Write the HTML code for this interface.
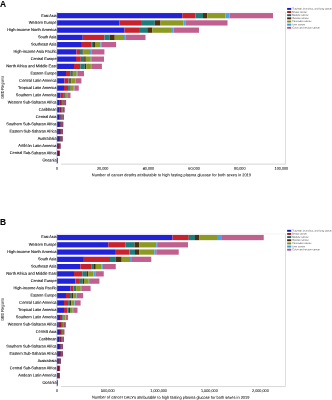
<!DOCTYPE html>
<html lang="en">
<head>
<meta charset="utf-8">
<title>Cancer burden attributable to high fasting plasma glucose by GBD region, 2019</title>
<style>
html,body{margin:0;padding:0;background:#fff;}
body{width:332px;height:400px;overflow:hidden;}
svg{display:block;font-family:"Liberation Sans",Arial,sans-serif;}
svg text{stroke:#000;stroke-width:0.08px;}
</style>
</head>
<body>
<svg width="332" height="400" viewBox="0 0 332 400">
<defs><filter id="soft" x="-2%" y="-2%" width="104%" height="104%"><feGaussianBlur stdDeviation="0.28"/></filter></defs>
<rect x="0" y="0" width="332" height="400" fill="#ffffff"/>
<g filter="url(#soft)">
<rect x="57.00" y="13.05" width="125.25" height="5.25" fill="#2424d8"/>
<rect x="182.25" y="13.05" width="13.25" height="5.25" fill="#c8202f"/>
<rect x="195.50" y="13.05" width="7.50" height="5.25" fill="#1e7e7a"/>
<rect x="203.00" y="13.05" width="4.25" height="5.25" fill="#4e2e0c"/>
<rect x="207.25" y="13.05" width="18.25" height="5.25" fill="#8c9a24"/>
<rect x="225.50" y="13.05" width="4.00" height="5.25" fill="#4aa3e6"/>
<rect x="229.50" y="13.05" width="43.50" height="5.25" fill="#c0608e"/>
<rect x="57.00" y="20.29" width="62.50" height="5.25" fill="#2424d8"/>
<rect x="119.50" y="20.29" width="21.50" height="5.25" fill="#c8202f"/>
<rect x="141.00" y="20.29" width="13.75" height="5.25" fill="#1e7e7a"/>
<rect x="154.75" y="20.29" width="5.75" height="5.25" fill="#4e2e0c"/>
<rect x="160.50" y="20.29" width="23.00" height="5.25" fill="#8c9a24"/>
<rect x="183.50" y="20.29" width="1.75" height="5.25" fill="#4aa3e6"/>
<rect x="185.25" y="20.29" width="42.25" height="5.25" fill="#c0608e"/>
<rect x="57.00" y="27.53" width="67.50" height="5.25" fill="#2424d8"/>
<rect x="124.50" y="27.53" width="14.50" height="5.25" fill="#c8202f"/>
<rect x="139.00" y="27.53" width="8.25" height="5.25" fill="#1e7e7a"/>
<rect x="147.25" y="27.53" width="5.00" height="5.25" fill="#4e2e0c"/>
<rect x="152.25" y="27.53" width="18.75" height="5.25" fill="#8c9a24"/>
<rect x="171.00" y="27.53" width="2.50" height="5.25" fill="#4aa3e6"/>
<rect x="173.50" y="27.53" width="25.50" height="5.25" fill="#c0608e"/>
<rect x="57.00" y="34.78" width="25.75" height="5.25" fill="#2424d8"/>
<rect x="82.75" y="34.78" width="21.65" height="5.25" fill="#c8202f"/>
<rect x="104.40" y="34.78" width="5.35" height="5.25" fill="#1e7e7a"/>
<rect x="109.75" y="34.78" width="5.00" height="5.25" fill="#4e2e0c"/>
<rect x="114.75" y="34.78" width="9.25" height="5.25" fill="#8c9a24"/>
<rect x="124.00" y="34.78" width="1.75" height="5.25" fill="#4aa3e6"/>
<rect x="125.75" y="34.78" width="19.75" height="5.25" fill="#c0608e"/>
<rect x="57.00" y="42.02" width="24.90" height="5.25" fill="#2424d8"/>
<rect x="81.90" y="42.02" width="9.35" height="5.25" fill="#c8202f"/>
<rect x="91.25" y="42.02" width="1.85" height="5.25" fill="#1e7e7a"/>
<rect x="93.10" y="42.02" width="1.90" height="5.25" fill="#4e2e0c"/>
<rect x="95.00" y="42.02" width="5.40" height="5.25" fill="#8c9a24"/>
<rect x="100.40" y="42.02" width="1.50" height="5.25" fill="#4aa3e6"/>
<rect x="101.90" y="42.02" width="14.20" height="5.25" fill="#c0608e"/>
<rect x="57.00" y="49.26" width="19.50" height="5.25" fill="#2424d8"/>
<rect x="76.50" y="49.26" width="3.50" height="5.25" fill="#c8202f"/>
<rect x="80.00" y="49.26" width="2.50" height="5.25" fill="#1e7e7a"/>
<rect x="82.50" y="49.26" width="1.00" height="5.25" fill="#4e2e0c"/>
<rect x="83.50" y="49.26" width="6.50" height="5.25" fill="#8c9a24"/>
<rect x="90.00" y="49.26" width="1.90" height="5.25" fill="#4aa3e6"/>
<rect x="91.90" y="49.26" width="12.50" height="5.25" fill="#c0608e"/>
<rect x="57.00" y="56.50" width="19.00" height="5.25" fill="#2424d8"/>
<rect x="76.00" y="56.50" width="4.80" height="5.25" fill="#c8202f"/>
<rect x="80.80" y="56.50" width="3.40" height="5.25" fill="#1e7e7a"/>
<rect x="84.20" y="56.50" width="1.60" height="5.25" fill="#4e2e0c"/>
<rect x="85.80" y="56.50" width="5.00" height="5.25" fill="#8c9a24"/>
<rect x="90.80" y="56.50" width="1.10" height="5.25" fill="#4aa3e6"/>
<rect x="91.90" y="56.50" width="12.10" height="5.25" fill="#c0608e"/>
<rect x="57.00" y="63.75" width="17.00" height="5.25" fill="#2424d8"/>
<rect x="74.00" y="63.75" width="6.30" height="5.25" fill="#c8202f"/>
<rect x="80.30" y="63.75" width="4.40" height="5.25" fill="#1e7e7a"/>
<rect x="84.70" y="63.75" width="1.55" height="5.25" fill="#4e2e0c"/>
<rect x="86.25" y="63.75" width="4.65" height="5.25" fill="#8c9a24"/>
<rect x="90.90" y="63.75" width="1.00" height="5.25" fill="#4aa3e6"/>
<rect x="91.90" y="63.75" width="10.00" height="5.25" fill="#c0608e"/>
<rect x="57.00" y="70.99" width="9.00" height="5.25" fill="#2424d8"/>
<rect x="66.00" y="70.99" width="4.25" height="5.25" fill="#c8202f"/>
<rect x="70.25" y="70.99" width="2.25" height="5.25" fill="#1e7e7a"/>
<rect x="72.50" y="70.99" width="1.00" height="5.25" fill="#4e2e0c"/>
<rect x="73.50" y="70.99" width="3.20" height="5.25" fill="#8c9a24"/>
<rect x="76.70" y="70.99" width="0.70" height="5.25" fill="#4aa3e6"/>
<rect x="77.40" y="70.99" width="6.60" height="5.25" fill="#c0608e"/>
<rect x="57.00" y="78.23" width="7.40" height="5.25" fill="#2424d8"/>
<rect x="64.40" y="78.23" width="4.10" height="5.25" fill="#c8202f"/>
<rect x="68.50" y="78.23" width="1.75" height="5.25" fill="#1e7e7a"/>
<rect x="70.25" y="78.23" width="1.00" height="5.25" fill="#4e2e0c"/>
<rect x="71.25" y="78.23" width="3.75" height="5.25" fill="#8c9a24"/>
<rect x="75.00" y="78.23" width="0.60" height="5.25" fill="#4aa3e6"/>
<rect x="75.60" y="78.23" width="5.80" height="5.25" fill="#c0608e"/>
<rect x="57.00" y="85.47" width="7.00" height="5.25" fill="#2424d8"/>
<rect x="64.00" y="85.47" width="4.10" height="5.25" fill="#c8202f"/>
<rect x="68.10" y="85.47" width="1.65" height="5.25" fill="#1e7e7a"/>
<rect x="69.75" y="85.47" width="0.85" height="5.25" fill="#4e2e0c"/>
<rect x="70.60" y="85.47" width="3.15" height="5.25" fill="#8c9a24"/>
<rect x="73.75" y="85.47" width="0.65" height="5.25" fill="#4aa3e6"/>
<rect x="74.40" y="85.47" width="4.35" height="5.25" fill="#c0608e"/>
<rect x="57.00" y="92.72" width="3.60" height="5.25" fill="#2424d8"/>
<rect x="60.60" y="92.72" width="2.50" height="5.25" fill="#c8202f"/>
<rect x="63.10" y="92.72" width="1.30" height="5.25" fill="#1e7e7a"/>
<rect x="64.40" y="92.72" width="0.60" height="5.25" fill="#4e2e0c"/>
<rect x="65.00" y="92.72" width="1.90" height="5.25" fill="#8c9a24"/>
<rect x="66.90" y="92.72" width="0.30" height="5.25" fill="#4aa3e6"/>
<rect x="67.20" y="92.72" width="3.30" height="5.25" fill="#c0608e"/>
<rect x="57.00" y="99.96" width="2.20" height="5.25" fill="#2424d8"/>
<rect x="59.20" y="99.96" width="2.60" height="5.25" fill="#c8202f"/>
<rect x="61.80" y="99.96" width="0.40" height="5.25" fill="#1e7e7a"/>
<rect x="62.20" y="99.96" width="0.40" height="5.25" fill="#4e2e0c"/>
<rect x="62.60" y="99.96" width="1.40" height="5.25" fill="#8c9a24"/>
<rect x="64.00" y="99.96" width="0.10" height="5.25" fill="#4aa3e6"/>
<rect x="64.10" y="99.96" width="2.00" height="5.25" fill="#c0608e"/>
<rect x="58.20" y="99.96" width="7.90" height="5.25" fill="#2a0030" fill-opacity="0.22"/>
<rect x="57.00" y="107.20" width="2.50" height="5.25" fill="#2424d8"/>
<rect x="59.50" y="107.20" width="1.50" height="5.25" fill="#c8202f"/>
<rect x="61.00" y="107.20" width="0.40" height="5.25" fill="#1e7e7a"/>
<rect x="61.40" y="107.20" width="0.30" height="5.25" fill="#4e2e0c"/>
<rect x="61.70" y="107.20" width="0.90" height="5.25" fill="#8c9a24"/>
<rect x="62.60" y="107.20" width="0.20" height="5.25" fill="#4aa3e6"/>
<rect x="62.80" y="107.20" width="1.85" height="5.25" fill="#c0608e"/>
<rect x="58.20" y="107.20" width="6.45" height="5.25" fill="#2a0030" fill-opacity="0.27"/>
<rect x="57.00" y="114.45" width="2.30" height="5.25" fill="#2424d8"/>
<rect x="59.30" y="114.45" width="1.30" height="5.25" fill="#c8202f"/>
<rect x="60.60" y="114.45" width="0.40" height="5.25" fill="#1e7e7a"/>
<rect x="61.00" y="114.45" width="0.30" height="5.25" fill="#4e2e0c"/>
<rect x="61.30" y="114.45" width="0.90" height="5.25" fill="#8c9a24"/>
<rect x="62.20" y="114.45" width="0.20" height="5.25" fill="#4aa3e6"/>
<rect x="62.40" y="114.45" width="1.50" height="5.25" fill="#c0608e"/>
<rect x="58.20" y="114.45" width="5.70" height="5.25" fill="#2a0030" fill-opacity="0.32"/>
<rect x="57.00" y="114.45" width="1.2" height="5.25" fill="#100040" fill-opacity="0.12"/>
<rect x="57.00" y="121.69" width="2.00" height="5.25" fill="#2424d8"/>
<rect x="59.00" y="121.69" width="1.60" height="5.25" fill="#c8202f"/>
<rect x="60.60" y="121.69" width="0.30" height="5.25" fill="#1e7e7a"/>
<rect x="60.90" y="121.69" width="0.30" height="5.25" fill="#4e2e0c"/>
<rect x="61.20" y="121.69" width="0.80" height="5.25" fill="#8c9a24"/>
<rect x="62.00" y="121.69" width="0.10" height="5.25" fill="#4aa3e6"/>
<rect x="62.10" y="121.69" width="1.20" height="5.25" fill="#c0608e"/>
<rect x="58.20" y="121.69" width="5.10" height="5.25" fill="#2a0030" fill-opacity="0.37"/>
<rect x="57.00" y="121.69" width="1.2" height="5.25" fill="#100040" fill-opacity="0.18"/>
<rect x="57.00" y="128.93" width="1.80" height="5.25" fill="#2424d8"/>
<rect x="58.80" y="128.93" width="1.80" height="5.25" fill="#c8202f"/>
<rect x="60.60" y="128.93" width="0.20" height="5.25" fill="#1e7e7a"/>
<rect x="60.80" y="128.93" width="0.20" height="5.25" fill="#4e2e0c"/>
<rect x="61.00" y="128.93" width="0.70" height="5.25" fill="#8c9a24"/>
<rect x="61.70" y="128.93" width="0.10" height="5.25" fill="#4aa3e6"/>
<rect x="61.80" y="128.93" width="1.10" height="5.25" fill="#c0608e"/>
<rect x="58.20" y="128.93" width="4.70" height="5.25" fill="#2a0030" fill-opacity="0.42"/>
<rect x="57.00" y="128.93" width="1.2" height="5.25" fill="#100040" fill-opacity="0.24"/>
<rect x="57.00" y="136.18" width="1.90" height="5.25" fill="#2424d8"/>
<rect x="58.90" y="136.18" width="0.90" height="5.25" fill="#c8202f"/>
<rect x="59.80" y="136.18" width="0.40" height="5.25" fill="#1e7e7a"/>
<rect x="60.20" y="136.18" width="0.20" height="5.25" fill="#4e2e0c"/>
<rect x="60.40" y="136.18" width="0.80" height="5.25" fill="#8c9a24"/>
<rect x="61.20" y="136.18" width="0.20" height="5.25" fill="#4aa3e6"/>
<rect x="61.40" y="136.18" width="1.30" height="5.25" fill="#c0608e"/>
<rect x="58.20" y="136.18" width="4.50" height="5.25" fill="#2a0030" fill-opacity="0.47"/>
<rect x="57.00" y="136.18" width="1.2" height="5.25" fill="#100040" fill-opacity="0.30"/>
<rect x="57.00" y="143.42" width="1.20" height="5.25" fill="#2424d8"/>
<rect x="58.20" y="143.42" width="0.80" height="5.25" fill="#c8202f"/>
<rect x="59.00" y="143.42" width="0.20" height="5.25" fill="#1e7e7a"/>
<rect x="59.20" y="143.42" width="0.20" height="5.25" fill="#4e2e0c"/>
<rect x="59.40" y="143.42" width="0.50" height="5.25" fill="#8c9a24"/>
<rect x="59.90" y="143.42" width="0.10" height="5.25" fill="#4aa3e6"/>
<rect x="60.00" y="143.42" width="0.60" height="5.25" fill="#c0608e"/>
<rect x="58.20" y="143.42" width="2.40" height="5.25" fill="#2a0030" fill-opacity="0.52"/>
<rect x="57.00" y="143.42" width="1.2" height="5.25" fill="#100040" fill-opacity="0.36"/>
<rect x="57.00" y="150.66" width="1.00" height="5.25" fill="#2424d8"/>
<rect x="58.00" y="150.66" width="1.00" height="5.25" fill="#c8202f"/>
<rect x="59.00" y="150.66" width="0.10" height="5.25" fill="#1e7e7a"/>
<rect x="59.10" y="150.66" width="0.10" height="5.25" fill="#4e2e0c"/>
<rect x="59.20" y="150.66" width="0.30" height="5.25" fill="#8c9a24"/>
<rect x="59.50" y="150.66" width="0.05" height="5.25" fill="#4aa3e6"/>
<rect x="59.55" y="150.66" width="0.35" height="5.25" fill="#c0608e"/>
<rect x="58.20" y="150.66" width="1.70" height="5.25" fill="#2a0030" fill-opacity="0.57"/>
<rect x="57.00" y="150.66" width="1.2" height="5.25" fill="#100040" fill-opacity="0.42"/>
<rect x="57.00" y="157.90" width="0.30" height="5.25" fill="#2424d8"/>
<rect x="57.30" y="157.90" width="0.20" height="5.25" fill="#c8202f"/>
<rect x="57.50" y="157.90" width="0.05" height="5.25" fill="#1e7e7a"/>
<rect x="57.55" y="157.90" width="0.05" height="5.25" fill="#4e2e0c"/>
<rect x="57.60" y="157.90" width="0.15" height="5.25" fill="#8c9a24"/>
<rect x="57.75" y="157.90" width="0.05" height="5.25" fill="#4aa3e6"/>
<rect x="57.80" y="157.90" width="0.15" height="5.25" fill="#c0608e"/>
<rect x="56.90" y="157.90" width="0.8" height="5.25" fill="#26266a"/>
</g>
<line x1="57.0" y1="12.05" x2="285.5" y2="12.05" stroke="#ececec" stroke-width="0.6"/>
<line x1="285.5" y1="12.05" x2="285.5" y2="164.15" stroke="#d4d4d4" stroke-width="0.8"/>
<line x1="61.0" y1="164.15" x2="285.5" y2="164.15" stroke="#d2d2d2" stroke-width="0.9"/>
<line x1="57.0" y1="12.05" x2="57.0" y2="164.15" stroke="#9090dc" stroke-width="0.6"/>
<text transform="translate(56.5,16.52) rotate(0.03)" text-anchor="end" font-size="3.95" fill="#000000" textLength="15.29" lengthAdjust="spacingAndGlyphs">East Asia</text>
<text transform="translate(56.5,23.76) rotate(0.03)" text-anchor="end" font-size="3.95" fill="#000000" textLength="27.83" lengthAdjust="spacingAndGlyphs">Western Europe</text>
<text transform="translate(56.5,31.01) rotate(0.03)" text-anchor="end" font-size="3.95" fill="#000000" textLength="49.25" lengthAdjust="spacingAndGlyphs">High-income North America</text>
<text transform="translate(56.5,38.25) rotate(0.03)" text-anchor="end" font-size="3.95" fill="#000000" textLength="18.49" lengthAdjust="spacingAndGlyphs">South Asia</text>
<text transform="translate(56.5,45.49) rotate(0.03)" text-anchor="end" font-size="3.95" fill="#000000" textLength="25.58" lengthAdjust="spacingAndGlyphs">Southeast Asia</text>
<text transform="translate(56.5,52.74) rotate(0.03)" text-anchor="end" font-size="3.95" fill="#000000" textLength="43.07" lengthAdjust="spacingAndGlyphs">High-income Asia Pacific</text>
<text transform="translate(56.5,59.98) rotate(0.03)" text-anchor="end" font-size="3.95" fill="#000000" textLength="25.81" lengthAdjust="spacingAndGlyphs">Central Europe</text>
<text transform="translate(56.5,67.22) rotate(0.03)" text-anchor="end" font-size="3.95" fill="#000000" textLength="50.26" lengthAdjust="spacingAndGlyphs">North Africa and Middle East</text>
<text transform="translate(56.5,74.46) rotate(0.03)" text-anchor="end" font-size="3.95" fill="#000000" textLength="26.09" lengthAdjust="spacingAndGlyphs">Eastern Europe</text>
<text transform="translate(56.5,81.71) rotate(0.03)" text-anchor="end" font-size="3.95" fill="#000000" textLength="37.17" lengthAdjust="spacingAndGlyphs">Central Latin America</text>
<text transform="translate(56.5,88.95) rotate(0.03)" text-anchor="end" font-size="3.95" fill="#000000" textLength="38.57" lengthAdjust="spacingAndGlyphs">Tropical Latin America</text>
<text transform="translate(56.5,96.19) rotate(0.03)" text-anchor="end" font-size="3.95" fill="#000000" textLength="40.63" lengthAdjust="spacingAndGlyphs">Southern Latin America</text>
<text transform="translate(56.5,103.44) rotate(0.03)" text-anchor="end" font-size="3.95" fill="#000000" textLength="48.75" lengthAdjust="spacingAndGlyphs">Western Sub-Saharan Africa</text>
<text transform="translate(56.5,110.68) rotate(0.03)" text-anchor="end" font-size="3.95" fill="#000000" textLength="17.74" lengthAdjust="spacingAndGlyphs">Caribbean</text>
<text transform="translate(56.5,117.92) rotate(0.03)" text-anchor="end" font-size="3.95" fill="#000000" textLength="20.69" lengthAdjust="spacingAndGlyphs">Central Asia</text>
<text transform="translate(56.5,125.16) rotate(0.03)" text-anchor="end" font-size="3.95" fill="#000000" textLength="50.20" lengthAdjust="spacingAndGlyphs">Southern Sub-Saharan Africa</text>
<text transform="translate(56.5,132.41) rotate(0.03)" text-anchor="end" font-size="3.95" fill="#000000" textLength="47.01" lengthAdjust="spacingAndGlyphs">Eastern Sub-Saharan Africa</text>
<text transform="translate(56.5,139.65) rotate(0.03)" text-anchor="end" font-size="3.95" fill="#000000" textLength="18.79" lengthAdjust="spacingAndGlyphs">Australasia</text>
<text transform="translate(56.5,146.89) rotate(0.03)" text-anchor="end" font-size="3.95" fill="#000000" textLength="38.16" lengthAdjust="spacingAndGlyphs">Andean Latin America</text>
<text transform="translate(56.5,154.14) rotate(0.03)" text-anchor="end" font-size="3.95" fill="#000000" textLength="46.74" lengthAdjust="spacingAndGlyphs">Central Sub-Saharan Africa</text>
<text transform="translate(56.5,161.38) rotate(0.03)" text-anchor="end" font-size="3.95" fill="#000000" textLength="14.08" lengthAdjust="spacingAndGlyphs">Oceania</text>
<text transform="translate(57,169.65) rotate(0.03)" text-anchor="middle" font-size="3.95" fill="#000000" textLength="2.13" lengthAdjust="spacingAndGlyphs" style="stroke-width:0.04px">0</text>
<text transform="translate(102.7,169.65) rotate(0.03)" text-anchor="middle" font-size="3.95" fill="#000000" textLength="11.50" lengthAdjust="spacingAndGlyphs" style="stroke-width:0.04px">20,000</text>
<text transform="translate(148.4,169.65) rotate(0.03)" text-anchor="middle" font-size="3.95" fill="#000000" textLength="11.50" lengthAdjust="spacingAndGlyphs" style="stroke-width:0.04px">40,000</text>
<text transform="translate(194.1,169.65) rotate(0.03)" text-anchor="middle" font-size="3.95" fill="#000000" textLength="11.50" lengthAdjust="spacingAndGlyphs" style="stroke-width:0.04px">60,000</text>
<text transform="translate(239.8,169.65) rotate(0.03)" text-anchor="middle" font-size="3.95" fill="#000000" textLength="11.50" lengthAdjust="spacingAndGlyphs" style="stroke-width:0.04px">80,000</text>
<text transform="translate(281.4,169.65) rotate(0.03)" text-anchor="middle" font-size="3.95" fill="#000000" textLength="13.63" lengthAdjust="spacingAndGlyphs" style="stroke-width:0.04px">100,000</text>
<text transform="translate(171.4,176.25) rotate(0.03)" text-anchor="middle" font-size="3.95" fill="#000000" textLength="159.25" lengthAdjust="spacingAndGlyphs" style="stroke-width:0.04px">Number of cancer deaths attributable to high fasting plasma glucose for both sexes in 2019</text>
<text transform="translate(3.8,87.35) rotate(-90.03)" text-anchor="middle" font-size="3.95" fill="#000000" textLength="22.76" lengthAdjust="spacingAndGlyphs" style="stroke-width:0.03px">GBD Regions</text>
<rect x="287.15" y="7.95" width="4.05" height="1.9" fill="#1818c4"/>
<text transform="translate(292.2,9.50) rotate(0.03)" text-anchor="start" font-size="2.52" fill="#000000" textLength="39.84" lengthAdjust="spacingAndGlyphs" style="stroke:none" opacity="0.8">Tracheal, bronchus, and lung cancer</text>
<rect x="287.15" y="11.10" width="4.05" height="1.9" fill="#a81a22"/>
<text transform="translate(292.2,12.65) rotate(0.03)" text-anchor="start" font-size="2.52" fill="#000000" textLength="14.76" lengthAdjust="spacingAndGlyphs" style="stroke:none" opacity="0.8">Breast cancer</text>
<rect x="287.15" y="14.25" width="4.05" height="1.9" fill="#12646c"/>
<text transform="translate(292.2,15.80) rotate(0.03)" text-anchor="start" font-size="2.52" fill="#000000" textLength="16.42" lengthAdjust="spacingAndGlyphs" style="stroke:none" opacity="0.8">Bladder cancer</text>
<rect x="287.15" y="17.40" width="4.05" height="1.9" fill="#42240a"/>
<text transform="translate(292.2,18.95) rotate(0.03)" text-anchor="start" font-size="2.52" fill="#000000" textLength="16.50" lengthAdjust="spacingAndGlyphs" style="stroke:none" opacity="0.8">Ovarian cancer</text>
<rect x="287.15" y="20.55" width="4.05" height="1.9" fill="#7c8a20"/>
<text transform="translate(292.2,22.10) rotate(0.03)" text-anchor="start" font-size="2.52" fill="#000000" textLength="19.31" lengthAdjust="spacingAndGlyphs" style="stroke:none" opacity="0.8">Pancreatic cancer</text>
<rect x="287.15" y="23.70" width="4.05" height="1.9" fill="#3a9ad8"/>
<text transform="translate(292.2,25.25) rotate(0.03)" text-anchor="start" font-size="2.52" fill="#000000" textLength="13.12" lengthAdjust="spacingAndGlyphs" style="stroke:none" opacity="0.8">Liver cancer</text>
<rect x="287.15" y="26.85" width="4.05" height="1.9" fill="#a8558c"/>
<text transform="translate(292.2,28.40) rotate(0.03)" text-anchor="start" font-size="2.52" fill="#000000" textLength="27.85" lengthAdjust="spacingAndGlyphs" style="stroke:none" opacity="0.8">Colon and rectum cancer</text>
<text x="0" y="7.0" font-size="8.4" font-weight="bold" fill="#000">A</text>
<g filter="url(#soft)">
<rect x="57.00" y="234.91" width="115.50" height="5.25" fill="#2424d8"/>
<rect x="172.50" y="234.91" width="16.25" height="5.25" fill="#c8202f"/>
<rect x="188.75" y="234.91" width="6.25" height="5.25" fill="#1e7e7a"/>
<rect x="195.00" y="234.91" width="4.20" height="5.25" fill="#4e2e0c"/>
<rect x="199.20" y="234.91" width="17.80" height="5.25" fill="#8c9a24"/>
<rect x="217.00" y="234.91" width="5.00" height="5.25" fill="#4aa3e6"/>
<rect x="222.00" y="234.91" width="41.75" height="5.25" fill="#c0608e"/>
<rect x="57.00" y="242.18" width="51.25" height="5.25" fill="#2424d8"/>
<rect x="108.25" y="242.18" width="17.35" height="5.25" fill="#c8202f"/>
<rect x="125.60" y="242.18" width="8.90" height="5.25" fill="#1e7e7a"/>
<rect x="134.50" y="242.18" width="4.70" height="5.25" fill="#4e2e0c"/>
<rect x="139.20" y="242.18" width="17.05" height="5.25" fill="#8c9a24"/>
<rect x="156.25" y="242.18" width="1.75" height="5.25" fill="#4aa3e6"/>
<rect x="158.00" y="242.18" width="30.00" height="5.25" fill="#c0608e"/>
<rect x="57.00" y="249.45" width="58.00" height="5.25" fill="#2424d8"/>
<rect x="115.00" y="249.45" width="14.50" height="5.25" fill="#c8202f"/>
<rect x="129.50" y="249.45" width="5.50" height="5.25" fill="#1e7e7a"/>
<rect x="135.00" y="249.45" width="4.20" height="5.25" fill="#4e2e0c"/>
<rect x="139.20" y="249.45" width="15.05" height="5.25" fill="#8c9a24"/>
<rect x="154.25" y="249.45" width="2.00" height="5.25" fill="#4aa3e6"/>
<rect x="156.25" y="249.45" width="22.50" height="5.25" fill="#c0608e"/>
<rect x="57.00" y="256.72" width="26.90" height="5.25" fill="#2424d8"/>
<rect x="83.90" y="256.72" width="26.10" height="5.25" fill="#c8202f"/>
<rect x="110.00" y="256.72" width="5.75" height="5.25" fill="#1e7e7a"/>
<rect x="115.75" y="256.72" width="5.95" height="5.25" fill="#4e2e0c"/>
<rect x="121.70" y="256.72" width="8.30" height="5.25" fill="#8c9a24"/>
<rect x="130.00" y="256.72" width="2.00" height="5.25" fill="#4aa3e6"/>
<rect x="132.00" y="256.72" width="19.25" height="5.25" fill="#c0608e"/>
<rect x="57.00" y="263.99" width="23.40" height="5.25" fill="#2424d8"/>
<rect x="80.40" y="263.99" width="11.30" height="5.25" fill="#c8202f"/>
<rect x="91.70" y="263.99" width="2.30" height="5.25" fill="#1e7e7a"/>
<rect x="94.00" y="263.99" width="1.80" height="5.25" fill="#4e2e0c"/>
<rect x="95.80" y="263.99" width="5.60" height="5.25" fill="#8c9a24"/>
<rect x="101.40" y="263.99" width="1.50" height="5.25" fill="#4aa3e6"/>
<rect x="102.90" y="263.99" width="12.85" height="5.25" fill="#c0608e"/>
<rect x="57.00" y="271.25" width="17.00" height="5.25" fill="#2424d8"/>
<rect x="74.00" y="271.25" width="8.30" height="5.25" fill="#c8202f"/>
<rect x="82.30" y="271.25" width="4.10" height="5.25" fill="#1e7e7a"/>
<rect x="86.40" y="271.25" width="1.80" height="5.25" fill="#4e2e0c"/>
<rect x="88.20" y="271.25" width="5.30" height="5.25" fill="#8c9a24"/>
<rect x="93.50" y="271.25" width="1.80" height="5.25" fill="#4aa3e6"/>
<rect x="95.30" y="271.25" width="8.45" height="5.25" fill="#c0608e"/>
<rect x="57.00" y="278.52" width="18.40" height="5.25" fill="#2424d8"/>
<rect x="75.40" y="278.52" width="4.50" height="5.25" fill="#c8202f"/>
<rect x="79.90" y="278.52" width="2.80" height="5.25" fill="#1e7e7a"/>
<rect x="82.70" y="278.52" width="1.30" height="5.25" fill="#4e2e0c"/>
<rect x="84.00" y="278.52" width="4.75" height="5.25" fill="#8c9a24"/>
<rect x="88.75" y="278.52" width="1.25" height="5.25" fill="#4aa3e6"/>
<rect x="90.00" y="278.52" width="9.40" height="5.25" fill="#c0608e"/>
<rect x="57.00" y="285.79" width="13.60" height="5.25" fill="#2424d8"/>
<rect x="70.60" y="285.79" width="2.90" height="5.25" fill="#c8202f"/>
<rect x="73.50" y="285.79" width="1.80" height="5.25" fill="#1e7e7a"/>
<rect x="75.30" y="285.79" width="0.90" height="5.25" fill="#4e2e0c"/>
<rect x="76.20" y="285.79" width="4.60" height="5.25" fill="#8c9a24"/>
<rect x="80.80" y="285.79" width="1.10" height="5.25" fill="#4aa3e6"/>
<rect x="81.90" y="285.79" width="8.70" height="5.25" fill="#c0608e"/>
<rect x="57.00" y="293.06" width="9.00" height="5.25" fill="#2424d8"/>
<rect x="66.00" y="293.06" width="4.00" height="5.25" fill="#c8202f"/>
<rect x="70.00" y="293.06" width="1.90" height="5.25" fill="#1e7e7a"/>
<rect x="71.90" y="293.06" width="1.20" height="5.25" fill="#4e2e0c"/>
<rect x="73.10" y="293.06" width="3.40" height="5.25" fill="#8c9a24"/>
<rect x="76.50" y="293.06" width="0.50" height="5.25" fill="#4aa3e6"/>
<rect x="77.00" y="293.06" width="6.10" height="5.25" fill="#c0608e"/>
<rect x="57.00" y="300.33" width="7.00" height="5.25" fill="#2424d8"/>
<rect x="64.00" y="300.33" width="4.10" height="5.25" fill="#c8202f"/>
<rect x="68.10" y="300.33" width="1.90" height="5.25" fill="#1e7e7a"/>
<rect x="70.00" y="300.33" width="1.25" height="5.25" fill="#4e2e0c"/>
<rect x="71.25" y="300.33" width="3.15" height="5.25" fill="#8c9a24"/>
<rect x="74.40" y="300.33" width="0.60" height="5.25" fill="#4aa3e6"/>
<rect x="75.00" y="300.33" width="5.60" height="5.25" fill="#c0608e"/>
<rect x="57.00" y="307.60" width="7.00" height="5.25" fill="#2424d8"/>
<rect x="64.00" y="307.60" width="3.50" height="5.25" fill="#c8202f"/>
<rect x="67.50" y="307.60" width="1.50" height="5.25" fill="#1e7e7a"/>
<rect x="69.00" y="307.60" width="1.00" height="5.25" fill="#4e2e0c"/>
<rect x="70.00" y="307.60" width="2.75" height="5.25" fill="#8c9a24"/>
<rect x="72.75" y="307.60" width="0.45" height="5.25" fill="#4aa3e6"/>
<rect x="73.20" y="307.60" width="4.30" height="5.25" fill="#c0608e"/>
<rect x="57.00" y="314.87" width="3.00" height="5.25" fill="#2424d8"/>
<rect x="60.00" y="314.87" width="2.25" height="5.25" fill="#c8202f"/>
<rect x="62.25" y="314.87" width="0.85" height="5.25" fill="#1e7e7a"/>
<rect x="63.10" y="314.87" width="0.50" height="5.25" fill="#4e2e0c"/>
<rect x="63.60" y="314.87" width="2.00" height="5.25" fill="#8c9a24"/>
<rect x="65.60" y="314.87" width="0.30" height="5.25" fill="#4aa3e6"/>
<rect x="65.90" y="314.87" width="2.20" height="5.25" fill="#c0608e"/>
<rect x="57.00" y="322.14" width="1.75" height="5.25" fill="#2424d8"/>
<rect x="58.75" y="322.14" width="2.50" height="5.25" fill="#c8202f"/>
<rect x="61.25" y="322.14" width="0.35" height="5.25" fill="#1e7e7a"/>
<rect x="61.60" y="322.14" width="0.40" height="5.25" fill="#4e2e0c"/>
<rect x="62.00" y="322.14" width="1.50" height="5.25" fill="#8c9a24"/>
<rect x="63.50" y="322.14" width="0.10" height="5.25" fill="#4aa3e6"/>
<rect x="63.60" y="322.14" width="2.20" height="5.25" fill="#c0608e"/>
<rect x="58.20" y="322.14" width="7.60" height="5.25" fill="#2a0030" fill-opacity="0.22"/>
<rect x="57.00" y="329.41" width="2.90" height="5.25" fill="#2424d8"/>
<rect x="59.90" y="329.41" width="1.70" height="5.25" fill="#c8202f"/>
<rect x="61.60" y="329.41" width="0.40" height="5.25" fill="#1e7e7a"/>
<rect x="62.00" y="329.41" width="0.30" height="5.25" fill="#4e2e0c"/>
<rect x="62.30" y="329.41" width="0.70" height="5.25" fill="#8c9a24"/>
<rect x="63.00" y="329.41" width="0.10" height="5.25" fill="#4aa3e6"/>
<rect x="63.10" y="329.41" width="1.30" height="5.25" fill="#c0608e"/>
<rect x="58.20" y="329.41" width="6.20" height="5.25" fill="#2a0030" fill-opacity="0.27"/>
<rect x="57.00" y="336.68" width="2.50" height="5.25" fill="#2424d8"/>
<rect x="59.50" y="336.68" width="1.50" height="5.25" fill="#c8202f"/>
<rect x="61.00" y="336.68" width="0.30" height="5.25" fill="#1e7e7a"/>
<rect x="61.30" y="336.68" width="0.30" height="5.25" fill="#4e2e0c"/>
<rect x="61.60" y="336.68" width="0.80" height="5.25" fill="#8c9a24"/>
<rect x="62.40" y="336.68" width="0.20" height="5.25" fill="#4aa3e6"/>
<rect x="62.60" y="336.68" width="1.30" height="5.25" fill="#c0608e"/>
<rect x="58.20" y="336.68" width="5.70" height="5.25" fill="#2a0030" fill-opacity="0.32"/>
<rect x="57.00" y="336.68" width="1.2" height="5.25" fill="#100040" fill-opacity="0.12"/>
<rect x="57.00" y="343.95" width="2.00" height="5.25" fill="#2424d8"/>
<rect x="59.00" y="343.95" width="1.60" height="5.25" fill="#c8202f"/>
<rect x="60.60" y="343.95" width="0.20" height="5.25" fill="#1e7e7a"/>
<rect x="60.80" y="343.95" width="0.30" height="5.25" fill="#4e2e0c"/>
<rect x="61.10" y="343.95" width="0.70" height="5.25" fill="#8c9a24"/>
<rect x="61.80" y="343.95" width="0.10" height="5.25" fill="#4aa3e6"/>
<rect x="61.90" y="343.95" width="1.00" height="5.25" fill="#c0608e"/>
<rect x="58.20" y="343.95" width="4.70" height="5.25" fill="#2a0030" fill-opacity="0.37"/>
<rect x="57.00" y="343.95" width="1.2" height="5.25" fill="#100040" fill-opacity="0.18"/>
<rect x="57.00" y="351.21" width="1.80" height="5.25" fill="#2424d8"/>
<rect x="58.80" y="351.21" width="1.90" height="5.25" fill="#c8202f"/>
<rect x="60.70" y="351.21" width="0.20" height="5.25" fill="#1e7e7a"/>
<rect x="60.90" y="351.21" width="0.20" height="5.25" fill="#4e2e0c"/>
<rect x="61.10" y="351.21" width="0.70" height="5.25" fill="#8c9a24"/>
<rect x="61.80" y="351.21" width="0.10" height="5.25" fill="#4aa3e6"/>
<rect x="61.90" y="351.21" width="1.00" height="5.25" fill="#c0608e"/>
<rect x="58.20" y="351.21" width="4.70" height="5.25" fill="#2a0030" fill-opacity="0.42"/>
<rect x="57.00" y="351.21" width="1.2" height="5.25" fill="#100040" fill-opacity="0.24"/>
<rect x="57.00" y="358.48" width="1.60" height="5.25" fill="#2424d8"/>
<rect x="58.60" y="358.48" width="0.70" height="5.25" fill="#c8202f"/>
<rect x="59.30" y="358.48" width="0.30" height="5.25" fill="#1e7e7a"/>
<rect x="59.60" y="358.48" width="0.20" height="5.25" fill="#4e2e0c"/>
<rect x="59.80" y="358.48" width="0.50" height="5.25" fill="#8c9a24"/>
<rect x="60.30" y="358.48" width="0.10" height="5.25" fill="#4aa3e6"/>
<rect x="60.40" y="358.48" width="0.60" height="5.25" fill="#c0608e"/>
<rect x="58.20" y="358.48" width="2.80" height="5.25" fill="#2a0030" fill-opacity="0.47"/>
<rect x="57.00" y="358.48" width="1.2" height="5.25" fill="#100040" fill-opacity="0.30"/>
<rect x="57.00" y="365.75" width="1.00" height="5.25" fill="#2424d8"/>
<rect x="58.00" y="365.75" width="1.20" height="5.25" fill="#c8202f"/>
<rect x="59.20" y="365.75" width="0.10" height="5.25" fill="#1e7e7a"/>
<rect x="59.30" y="365.75" width="0.10" height="5.25" fill="#4e2e0c"/>
<rect x="59.40" y="365.75" width="0.30" height="5.25" fill="#8c9a24"/>
<rect x="59.70" y="365.75" width="0.05" height="5.25" fill="#4aa3e6"/>
<rect x="59.75" y="365.75" width="0.35" height="5.25" fill="#c0608e"/>
<rect x="58.20" y="365.75" width="1.90" height="5.25" fill="#2a0030" fill-opacity="0.52"/>
<rect x="57.00" y="365.75" width="1.2" height="5.25" fill="#100040" fill-opacity="0.36"/>
<rect x="57.00" y="373.02" width="1.00" height="5.25" fill="#2424d8"/>
<rect x="58.00" y="373.02" width="0.70" height="5.25" fill="#c8202f"/>
<rect x="58.70" y="373.02" width="0.20" height="5.25" fill="#1e7e7a"/>
<rect x="58.90" y="373.02" width="0.10" height="5.25" fill="#4e2e0c"/>
<rect x="59.00" y="373.02" width="0.40" height="5.25" fill="#8c9a24"/>
<rect x="59.40" y="373.02" width="0.10" height="5.25" fill="#4aa3e6"/>
<rect x="59.50" y="373.02" width="0.40" height="5.25" fill="#c0608e"/>
<rect x="58.20" y="373.02" width="1.70" height="5.25" fill="#2a0030" fill-opacity="0.57"/>
<rect x="57.00" y="373.02" width="1.2" height="5.25" fill="#100040" fill-opacity="0.42"/>
<rect x="57.00" y="380.29" width="0.30" height="5.25" fill="#2424d8"/>
<rect x="57.30" y="380.29" width="0.20" height="5.25" fill="#c8202f"/>
<rect x="57.50" y="380.29" width="0.05" height="5.25" fill="#1e7e7a"/>
<rect x="57.55" y="380.29" width="0.05" height="5.25" fill="#4e2e0c"/>
<rect x="57.60" y="380.29" width="0.15" height="5.25" fill="#8c9a24"/>
<rect x="57.75" y="380.29" width="0.05" height="5.25" fill="#4aa3e6"/>
<rect x="57.80" y="380.29" width="0.15" height="5.25" fill="#c0608e"/>
<rect x="56.90" y="380.29" width="0.8" height="5.25" fill="#26266a"/>
</g>
<line x1="57.0" y1="233.9" x2="285.5" y2="233.9" stroke="#ececec" stroke-width="0.6"/>
<line x1="285.5" y1="233.9" x2="285.5" y2="386.55" stroke="#d4d4d4" stroke-width="0.8"/>
<line x1="61.0" y1="386.55" x2="285.5" y2="386.55" stroke="#d2d2d2" stroke-width="0.9"/>
<line x1="57.0" y1="233.9" x2="57.0" y2="386.55" stroke="#9090dc" stroke-width="0.6"/>
<text transform="translate(56.5,238.38) rotate(0.03)" text-anchor="end" font-size="3.95" fill="#000000" textLength="15.29" lengthAdjust="spacingAndGlyphs">East Asia</text>
<text transform="translate(56.5,245.65) rotate(0.03)" text-anchor="end" font-size="3.95" fill="#000000" textLength="27.83" lengthAdjust="spacingAndGlyphs">Western Europe</text>
<text transform="translate(56.5,252.92) rotate(0.03)" text-anchor="end" font-size="3.95" fill="#000000" textLength="49.25" lengthAdjust="spacingAndGlyphs">High-income North America</text>
<text transform="translate(56.5,260.19) rotate(0.03)" text-anchor="end" font-size="3.95" fill="#000000" textLength="18.49" lengthAdjust="spacingAndGlyphs">South Asia</text>
<text transform="translate(56.5,267.46) rotate(0.03)" text-anchor="end" font-size="3.95" fill="#000000" textLength="25.58" lengthAdjust="spacingAndGlyphs">Southeast Asia</text>
<text transform="translate(56.5,274.73) rotate(0.03)" text-anchor="end" font-size="3.95" fill="#000000" textLength="50.26" lengthAdjust="spacingAndGlyphs">North Africa and Middle East</text>
<text transform="translate(56.5,282.00) rotate(0.03)" text-anchor="end" font-size="3.95" fill="#000000" textLength="25.81" lengthAdjust="spacingAndGlyphs">Central Europe</text>
<text transform="translate(56.5,289.27) rotate(0.03)" text-anchor="end" font-size="3.95" fill="#000000" textLength="43.07" lengthAdjust="spacingAndGlyphs">High-income Asia Pacific</text>
<text transform="translate(56.5,296.54) rotate(0.03)" text-anchor="end" font-size="3.95" fill="#000000" textLength="26.09" lengthAdjust="spacingAndGlyphs">Eastern Europe</text>
<text transform="translate(56.5,303.81) rotate(0.03)" text-anchor="end" font-size="3.95" fill="#000000" textLength="37.17" lengthAdjust="spacingAndGlyphs">Central Latin America</text>
<text transform="translate(56.5,311.08) rotate(0.03)" text-anchor="end" font-size="3.95" fill="#000000" textLength="38.57" lengthAdjust="spacingAndGlyphs">Tropical Latin America</text>
<text transform="translate(56.5,318.34) rotate(0.03)" text-anchor="end" font-size="3.95" fill="#000000" textLength="40.63" lengthAdjust="spacingAndGlyphs">Southern Latin America</text>
<text transform="translate(56.5,325.61) rotate(0.03)" text-anchor="end" font-size="3.95" fill="#000000" textLength="48.75" lengthAdjust="spacingAndGlyphs">Western Sub-Saharan Africa</text>
<text transform="translate(56.5,332.88) rotate(0.03)" text-anchor="end" font-size="3.95" fill="#000000" textLength="20.69" lengthAdjust="spacingAndGlyphs">Central Asia</text>
<text transform="translate(56.5,340.15) rotate(0.03)" text-anchor="end" font-size="3.95" fill="#000000" textLength="17.74" lengthAdjust="spacingAndGlyphs">Caribbean</text>
<text transform="translate(56.5,347.42) rotate(0.03)" text-anchor="end" font-size="3.95" fill="#000000" textLength="50.20" lengthAdjust="spacingAndGlyphs">Southern Sub-Saharan Africa</text>
<text transform="translate(56.5,354.69) rotate(0.03)" text-anchor="end" font-size="3.95" fill="#000000" textLength="47.01" lengthAdjust="spacingAndGlyphs">Eastern Sub-Saharan Africa</text>
<text transform="translate(56.5,361.96) rotate(0.03)" text-anchor="end" font-size="3.95" fill="#000000" textLength="18.79" lengthAdjust="spacingAndGlyphs">Australasia</text>
<text transform="translate(56.5,369.23) rotate(0.03)" text-anchor="end" font-size="3.95" fill="#000000" textLength="46.74" lengthAdjust="spacingAndGlyphs">Central Sub-Saharan Africa</text>
<text transform="translate(56.5,376.50) rotate(0.03)" text-anchor="end" font-size="3.95" fill="#000000" textLength="38.16" lengthAdjust="spacingAndGlyphs">Andean Latin America</text>
<text transform="translate(56.5,383.77) rotate(0.03)" text-anchor="end" font-size="3.95" fill="#000000" textLength="14.08" lengthAdjust="spacingAndGlyphs">Oceania</text>
<text transform="translate(57,392.05) rotate(0.03)" text-anchor="middle" font-size="3.95" fill="#000000" textLength="2.13" lengthAdjust="spacingAndGlyphs" style="stroke-width:0.04px">0</text>
<text transform="translate(107.8,392.05) rotate(0.03)" text-anchor="middle" font-size="3.95" fill="#000000" textLength="13.63" lengthAdjust="spacingAndGlyphs" style="stroke-width:0.04px">500,000</text>
<text transform="translate(158.6,392.05) rotate(0.03)" text-anchor="middle" font-size="3.95" fill="#000000" textLength="16.62" lengthAdjust="spacingAndGlyphs" style="stroke-width:0.04px">1,000,000</text>
<text transform="translate(209.4,392.05) rotate(0.03)" text-anchor="middle" font-size="3.95" fill="#000000" textLength="16.62" lengthAdjust="spacingAndGlyphs" style="stroke-width:0.04px">1,500,000</text>
<text transform="translate(260.4,392.05) rotate(0.03)" text-anchor="middle" font-size="3.95" fill="#000000" textLength="16.62" lengthAdjust="spacingAndGlyphs" style="stroke-width:0.04px">2,000,000</text>
<text transform="translate(170.6,398.65) rotate(0.03)" text-anchor="middle" font-size="3.95" fill="#000000" textLength="157.4" lengthAdjust="spacingAndGlyphs" style="stroke-width:0.04px">Number of cancer DALYs attributable to high fasting plasma glucose for both sexes in 2019</text>
<text transform="translate(3.8,309.48) rotate(-90.03)" text-anchor="middle" font-size="3.95" fill="#000000" textLength="22.76" lengthAdjust="spacingAndGlyphs" style="stroke-width:0.03px">GBD Regions</text>
<rect x="287.15" y="229.85" width="4.05" height="1.9" fill="#1818c4"/>
<text transform="translate(292.2,231.40) rotate(0.03)" text-anchor="start" font-size="2.52" fill="#000000" textLength="39.84" lengthAdjust="spacingAndGlyphs" style="stroke:none" opacity="0.8">Tracheal, bronchus, and lung cancer</text>
<rect x="287.15" y="233.00" width="4.05" height="1.9" fill="#a81a22"/>
<text transform="translate(292.2,234.55) rotate(0.03)" text-anchor="start" font-size="2.52" fill="#000000" textLength="14.76" lengthAdjust="spacingAndGlyphs" style="stroke:none" opacity="0.8">Breast cancer</text>
<rect x="287.15" y="236.15" width="4.05" height="1.9" fill="#12646c"/>
<text transform="translate(292.2,237.70) rotate(0.03)" text-anchor="start" font-size="2.52" fill="#000000" textLength="16.42" lengthAdjust="spacingAndGlyphs" style="stroke:none" opacity="0.8">Bladder cancer</text>
<rect x="287.15" y="239.30" width="4.05" height="1.9" fill="#42240a"/>
<text transform="translate(292.2,240.85) rotate(0.03)" text-anchor="start" font-size="2.52" fill="#000000" textLength="16.50" lengthAdjust="spacingAndGlyphs" style="stroke:none" opacity="0.8">Ovarian cancer</text>
<rect x="287.15" y="242.45" width="4.05" height="1.9" fill="#7c8a20"/>
<text transform="translate(292.2,244.00) rotate(0.03)" text-anchor="start" font-size="2.52" fill="#000000" textLength="19.31" lengthAdjust="spacingAndGlyphs" style="stroke:none" opacity="0.8">Pancreatic cancer</text>
<rect x="287.15" y="245.60" width="4.05" height="1.9" fill="#3a9ad8"/>
<text transform="translate(292.2,247.15) rotate(0.03)" text-anchor="start" font-size="2.52" fill="#000000" textLength="13.12" lengthAdjust="spacingAndGlyphs" style="stroke:none" opacity="0.8">Liver cancer</text>
<rect x="287.15" y="248.75" width="4.05" height="1.9" fill="#a8558c"/>
<text transform="translate(292.2,250.30) rotate(0.03)" text-anchor="start" font-size="2.52" fill="#000000" textLength="27.85" lengthAdjust="spacingAndGlyphs" style="stroke:none" opacity="0.8">Colon and rectum cancer</text>
<text x="0" y="225.0" font-size="8.4" font-weight="bold" fill="#000">B</text>
</svg>
</body>
</html>
